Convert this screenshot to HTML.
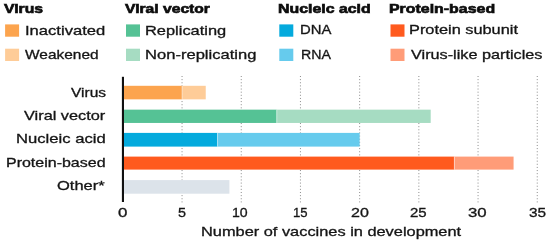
<!DOCTYPE html>
<html><head><meta charset="utf-8"><style>
html,body{margin:0;padding:0;background:#fff;width:550px;height:241px;overflow:hidden}
#c{position:absolute;left:0;top:0;width:550px;height:241px;background:#fff}
.t{position:absolute;white-space:nowrap;font-family:"Liberation Sans",sans-serif;font-size:13.6px;line-height:15px;color:#151515;transform-origin:0 0;-webkit-text-stroke:0.32px #151515}
.b{font-weight:700;font-size:13.3px;line-height:15px;color:#0d0d0d;-webkit-text-stroke:0.65px #0d0d0d}
</style></head><body><div id="c">
<svg width="550" height="241" viewBox="0 0 550 241" style="position:absolute;left:0;top:0"><line x1="182.05" y1="76" x2="182.05" y2="203" stroke="#8c8c8c" stroke-width="1" stroke-dasharray="1 2.135"/><line x1="241.25" y1="76" x2="241.25" y2="203" stroke="#8c8c8c" stroke-width="1" stroke-dasharray="1 2.135"/><line x1="300.45" y1="76" x2="300.45" y2="203" stroke="#8c8c8c" stroke-width="1" stroke-dasharray="1 2.135"/><line x1="359.65" y1="76" x2="359.65" y2="203" stroke="#8c8c8c" stroke-width="1" stroke-dasharray="1 2.135"/><line x1="418.85" y1="76" x2="418.85" y2="203" stroke="#8c8c8c" stroke-width="1" stroke-dasharray="1 2.135"/><line x1="478.05" y1="76" x2="478.05" y2="203" stroke="#8c8c8c" stroke-width="1" stroke-dasharray="1 2.135"/><line x1="537.25" y1="76" x2="537.25" y2="203" stroke="#8c8c8c" stroke-width="1" stroke-dasharray="1 2.135"/><rect x="122.85" y="85.8" width="59.20" height="13.55" fill="#fca44e"/><rect x="182.05" y="85.8" width="23.68" height="13.55" fill="#fecc98"/><rect x="181.55" y="85.8" width="1" height="13.55" fill="#fff" fill-opacity=".45"/><rect x="122.85" y="109.65" width="153.92" height="13.30" fill="#55c295"/><rect x="276.77" y="109.65" width="153.92" height="13.30" fill="#a6dcc2"/><rect x="276.27" y="109.65" width="1" height="13.30" fill="#fff" fill-opacity=".45"/><rect x="122.85" y="132.9" width="94.72" height="13.70" fill="#04aadd"/><rect x="217.57" y="132.9" width="142.08" height="13.70" fill="#66cbed"/><rect x="217.07" y="132.9" width="1" height="13.70" fill="#fff" fill-opacity=".45"/><rect x="122.85" y="156.6" width="331.52" height="13.00" fill="#ff5a1e"/><rect x="454.37" y="156.6" width="59.20" height="13.00" fill="#ff9c78"/><rect x="453.87" y="156.6" width="1" height="13.00" fill="#fff" fill-opacity=".45"/><rect x="122.85" y="180.1" width="106.56" height="13.60" fill="#dce3ea"/><rect x="5.1" y="24.4" width="14.0" height="12.3" fill="#fca44e"/><rect x="5.1" y="48.7" width="14.0" height="12.3" fill="#fecc98"/><rect x="126.0" y="24.4" width="14.0" height="12.3" fill="#55c295"/><rect x="126.0" y="48.7" width="14.0" height="12.3" fill="#a6dcc2"/><rect x="279.3" y="24.4" width="14.0" height="12.3" fill="#04aadd"/><rect x="279.3" y="48.7" width="14.0" height="12.3" fill="#66cbed"/><rect x="390.5" y="24.4" width="14.0" height="12.3" fill="#ff5a1e"/><rect x="390.5" y="48.7" width="14.0" height="12.3" fill="#ff9c78"/><rect x="121.9" y="76.8" width="2.1" height="125.2" fill="#111"/></svg>
<div class="t b" style="left:4.49px;top:1.00px;transform:scaleX(1.1850)">Virus</div><div class="t b" style="left:124.59px;top:1.00px;transform:scaleX(1.1766)">Viral vector</div><div class="t b" style="left:278.30px;top:1.00px;transform:scaleX(1.1948)">Nucleic acid</div><div class="t b" style="left:388.80px;top:1.00px;transform:scaleX(1.1966)">Protein-based</div><div class="t" style="left:24.78px;top:23.00px;transform:scaleX(1.2203)">Inactivated</div><div class="t" style="left:25.28px;top:47.00px;transform:scaleX(1.1362)">Weakened</div><div class="t" style="left:145.49px;top:23.00px;transform:scaleX(1.2076)">Replicating</div><div class="t" style="left:145.48px;top:47.00px;transform:scaleX(1.2189)">Non-replicating</div><div class="t" style="left:300.31px;top:22.00px;transform:scaleX(1.0929)">DNA</div><div class="t" style="left:300.76px;top:47.00px;transform:scaleX(1.0429)">RNA</div><div class="t" style="left:409.40px;top:22.00px;transform:scaleX(1.2011)">Protein subunit</div><div class="t" style="left:410.90px;top:47.00px;transform:scaleX(1.1945)">Virus-like particles</div><div class="t" style="left:70.68px;top:85.00px;transform:scaleX(1.1382)">Virus</div><div class="t" style="left:23.80px;top:108.00px;transform:scaleX(1.2000)">Viral vector</div><div class="t" style="left:16.08px;top:131.00px;transform:scaleX(1.2237)">Nucleic acid</div><div class="t" style="left:5.72px;top:155.00px;transform:scaleX(1.1759)">Protein-based</div><div class="t" style="left:57.29px;top:178.00px;transform:scaleX(1.2129)">Other*</div><div class="t" style="left:200.50px;top:224.00px;transform:scaleX(1.2037)">Number of vaccines in development</div><div class="t" style="left:118.19px;top:205.00px;transform:scaleX(1.2429)">0</div><div class="t" style="left:178.14px;top:205.00px;transform:scaleX(1.0571)">5</div><div class="t" style="left:232.32px;top:205.00px;transform:scaleX(1.0357)">10</div><div class="t" style="left:292.68px;top:205.00px;transform:scaleX(0.9643)">15</div><div class="t" style="left:350.91px;top:205.00px;transform:scaleX(1.1789)">20</div><div class="t" style="left:410.35px;top:205.00px;transform:scaleX(1.1018)">25</div><div class="t" style="left:468.39px;top:205.00px;transform:scaleX(1.2345)">30</div><div class="t" style="left:528.52px;top:205.00px;transform:scaleX(1.1310)">35</div>
</div></body></html>
